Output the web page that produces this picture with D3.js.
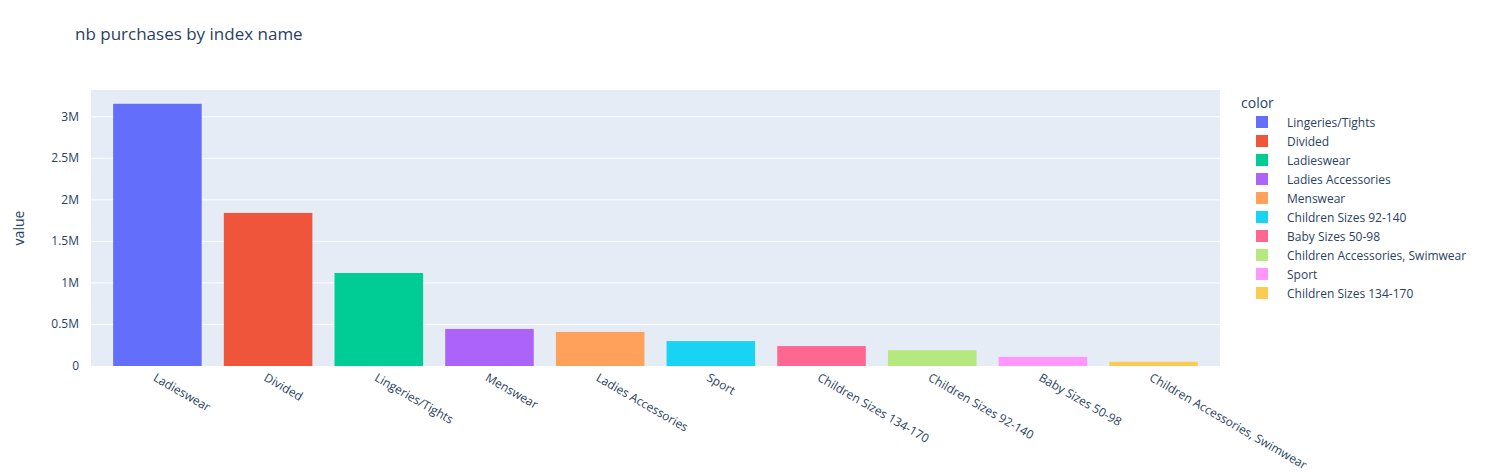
<!DOCTYPE html>
<html><head><meta charset="utf-8">
<script src="https://cdn.jsdelivr.net/npm/d3@7"></script>
<style>body{margin:0;background:#fff;font-family:"Open Sans",Arial,sans-serif;}</style>
</head><body><svg id="c" width="1491" height="475"></svg>
<script>
const categories=["Ladieswear","Divided","Lingeries/Tights","Menswear","Ladies Accessories","Sport","Children Sizes 134-170","Children Sizes 92-140","Baby Sizes 50-98","Children Accessories, Swimwear"];
const values=[3157000,1843000,1120000,446000,410000,300000,240000,190000,110000,50000];
const legendNames=["Lingeries/Tights","Divided","Ladieswear","Ladies Accessories","Menswear","Children Sizes 92-140","Baby Sizes 50-98","Children Accessories, Swimwear","Sport","Children Sizes 134-170"];
const colors=["#636efa","#EF553B","#00cc96","#ab63fa","#FFA15A","#19d3f3","#FF6692","#B6E880","#FF97FF","#FECB52"];
const yTicks=[0,500000,1000000,1500000,2000000,2500000,3000000];
const yTickLabels=["0","0.5M","1M","1.5M","2M","2.5M","3M"];

const svg=d3.select("#c");
const L=91,R=1220,T=90,B=366;
const x=d3.scaleBand().domain(categories).range([L,R]).padding(0.2);
const y=d3.scaleLinear().domain([0,3323000]).range([B,T]);
svg.append("rect").attr("x",L).attr("y",T).attr("width",R-L).attr("height",B-T).attr("fill","#e5ecf6");
svg.append("g").selectAll("line").data(yTicks.slice(1)).join("line")
 .attr("x1",L).attr("x2",R).attr("y1",d=>y(d)).attr("y2",d=>y(d)).attr("stroke","#fff").attr("stroke-width",1);
svg.append("g").selectAll("rect").data(categories).join("rect")
 .attr("x",d=>x(d)).attr("width",x.bandwidth()).attr("y",(d,i)=>y(values[i])).attr("height",(d,i)=>B-y(values[i])).attr("fill",(d,i)=>colors[i]);
svg.append("g").selectAll("text").data(yTicks).join("text")
 .attr("x",L-12).attr("y",d=>y(d)+4).attr("text-anchor","end").attr("font-size",12).attr("fill","#2a3f5f").text((d,i)=>yTickLabels[i]);
svg.append("g").selectAll("text").data(categories).join("text")
 .attr("transform",d=>`translate(${x(d)+x.bandwidth()/2-5},${B+14}) rotate(30)`)
 .attr("font-size",12).attr("fill","#2a3f5f").text(d=>d);
svg.append("text").attr("transform",`translate(24,${(T+B)/2}) rotate(-90)`).attr("text-anchor","middle").attr("font-size",14).attr("fill","#2a3f5f").text("value");
svg.append("text").attr("x",75).attr("y",40).attr("font-size",17).attr("fill","#2a3f5f").text("nb purchases by index name");
svg.append("text").attr("x",1241).attr("y",108).attr("font-size",14).attr("fill","#2a3f5f").text("color");
const lg=svg.append("g").selectAll("g").data(legendNames).join("g").attr("transform",(d,i)=>`translate(1256,${122+i*19})`);
lg.append("rect").attr("x",0).attr("y",-6).attr("width",12).attr("height",12).attr("fill",(d,i)=>colors[i]);
lg.append("text").attr("x",31).attr("y",4.5).attr("font-size",12).attr("fill","#2a3f5f").text(d=>d);
</script></body></html>
